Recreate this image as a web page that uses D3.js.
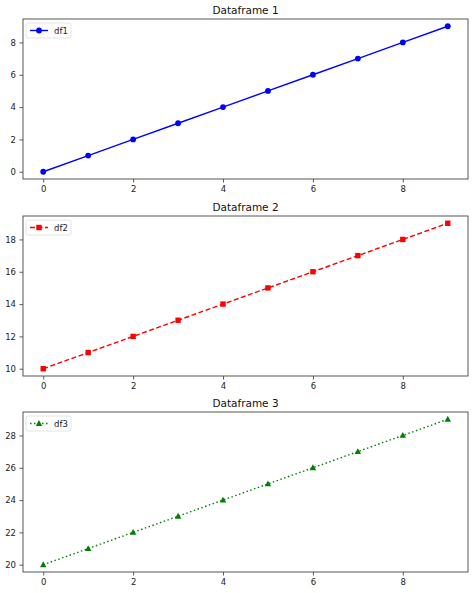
<!DOCTYPE html>
<html><head><meta charset="utf-8">
<script src="https://cdn.jsdelivr.net/npm/d3@7"></script>
<style>body{margin:0;background:#fff}svg{display:block;font-family:"DejaVu Sans",sans-serif}</style>
</head><body><svg id="c" width="474" height="593"></svg>
<script>
const xs = [0,1,2,3,4,5,6,7,8,9];
const df1 = [0,1,2,3,4,5,6,7,8,9];
const df2 = [10,11,12,13,14,15,16,17,18,19];
const df3 = [20,21,22,23,24,25,26,27,28,29];
const titles = ["Dataframe 1","Dataframe 2","Dataframe 3"];
const names = ["df1","df2","df3"];
const xTicks = [0,2,4,6,8];
const yTicks = [[0,2,4,6,8],[10,12,14,16,18],[20,22,24,26,28]];

const series = [df1, df2, df3];
const colors = ["#0000ff","#ff0000","#008000"];
const dashes = [null,"5,2.5","1.5,2.5"];
const markers = ["circle","square","triangle"];
const tops = [19, 216, 412];
const H = 160, L = 23, R = 468;
const svg = d3.select("#c");

series.forEach((vals, i) => {
  const top = tops[i];
  const x = d3.scaleLinear().domain([-0.45, 9.45]).range([L, R]);
  const y0 = d3.min(vals), y1 = d3.max(vals), pad = (y1 - y0) * 0.05;
  const y = d3.scaleLinear().domain([y0 - pad, y1 + pad]).range([top + H, top]);
  const g = svg.append("g");

  const xa = g.append("g").attr("transform", `translate(0,${top + H})`)
    .call(d3.axisBottom(x).tickValues(xTicks).tickSize(3.5).tickPadding(3.5).tickFormat(d3.format("d")));
  const ya = g.append("g").attr("transform", `translate(${L},0)`)
    .call(d3.axisLeft(y).tickValues(yTicks[i]).tickSize(3.5).tickPadding(3.5).tickFormat(d3.format("d")));
  [xa, ya].forEach(a => {
    a.select(".domain").remove();
    a.selectAll("line").attr("stroke", "#333").attr("stroke-width", 0.8);
    a.selectAll("text").attr("fill", "#222").style("font-size", "8.5px").style("font-family", "DejaVu Sans");
  });

  g.append("rect").attr("x", L).attr("y", top).attr("width", R - L).attr("height", H)
    .attr("fill", "none").attr("stroke", "#444").attr("stroke-width", 0.9);

  g.append("text").attr("x", (L + R) / 2).attr("y", top - 5).attr("text-anchor", "middle")
    .style("font-size", "10.5px").attr("fill", "#111").text(titles[i]);

  const line = d3.line().x((d, k) => x(xs[k])).y(d => y(d));
  g.append("path").datum(vals).attr("d", line).attr("fill", "none")
    .attr("stroke", colors[i]).attr("stroke-width", 1.4)
    .attr("stroke-dasharray", dashes[i]);

  const drawMarker = (sel, cx, cy) => {
    if (markers[i] === "circle") sel.append("circle").attr("cx", cx).attr("cy", cy).attr("r", 2.9).attr("fill", colors[i]);
    else if (markers[i] === "square") sel.append("rect").attr("x", cx - 2.7).attr("y", cy - 2.7).attr("width", 5.4).attr("height", 5.4).attr("fill", colors[i]);
    else sel.append("path").attr("d", `M${cx},${cy - 3.4}L${cx + 3.2},${cy + 2.4}L${cx - 3.2},${cy + 2.4}Z`).attr("fill", colors[i]);
  };
  vals.forEach((v, k) => drawMarker(g, x(xs[k]), y(v)));

  // legend
  const lg = g.append("g").attr("transform", `translate(${L + 3},${top + 4})`);
  lg.append("rect").attr("x", 0).attr("y", 0).attr("width", 45).attr("height", 15).attr("rx", 2)
    .attr("fill", "#fff").attr("stroke", "#ddd").attr("stroke-width", 0.8);
  lg.append("line").attr("x1", 4).attr("x2", 22).attr("y1", 7.5).attr("y2", 7.5)
    .attr("stroke", colors[i]).attr("stroke-width", 1.4).attr("stroke-dasharray", dashes[i]);
  drawMarker(lg, 13, 7.5);
  lg.append("text").attr("x", 28).attr("y", 10.5).style("font-size", "8.5px").attr("fill", "#222").text(names[i]);
});
</script></body></html>
